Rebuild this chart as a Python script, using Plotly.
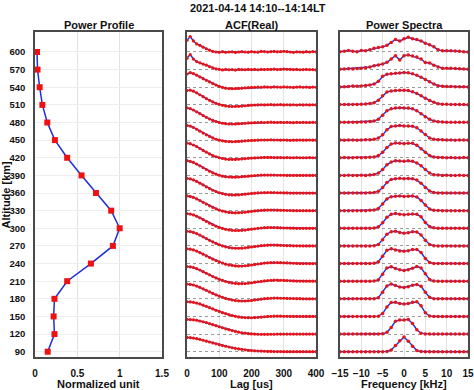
import plotly.graph_objects as go

# ---------------- data ----------------
altitudes = [90, 120, 150, 180, 210, 240, 270, 300, 330, 360, 390, 420, 450, 480, 510, 540, 570, 600]
power = [0.15, 0.23, 0.22, 0.23, 0.38, 0.66, 0.92, 1.00, 0.90, 0.72, 0.55, 0.38, 0.235, 0.145, 0.087, 0.055, 0.03, 0.024]

lag_step_us = 10
freq_start_khz = -15
freq_step_khz = 1

acf_090 = [0.97,0.96,0.93,0.89,0.84,0.78,0.72,0.66,0.60,0.54,0.48,0.42,0.37,0.32,0.27,0.23,0.19,0.16,0.13,0.10,0.08,0.06,0.05,0.04,0.03,0.02,0.02,0.01,0.01,0.01,0.00,0.00,0.00,0.00,0.00,0.00,0.00,0.00,0.00,0.00,0.00]
acf_120 = [1.00,0.99,0.97,0.94,0.89,0.84,0.78,0.71,0.64,0.57,0.50,0.43,0.36,0.30,0.24,0.18,0.13,0.09,0.06,0.03,0.01,0.00,-0.01,-0.02,-0.02,-0.02,-0.01,-0.01,0.00,0.00,0.00,0.00,0.00,0.00,0.00,0.00,0.00,0.00,0.00,0.00,0.00]
acf_150 = [1.00,0.99,0.96,0.91,0.85,0.77,0.69,0.60,0.51,0.42,0.34,0.26,0.19,0.12,0.06,0.01,-0.03,-0.06,-0.08,-0.09,-0.09,-0.08,-0.06,-0.04,-0.02,0.00,0.01,0.02,0.02,0.02,0.01,0.01,0.00,0.00,0.00,0.00,0.00,0.00,0.00,0.00,0.00]
acf_180 = [1.00,0.98,0.94,0.87,0.78,0.68,0.58,0.47,0.37,0.27,0.18,0.10,0.03,-0.03,-0.08,-0.12,-0.14,-0.15,-0.15,-0.13,-0.11,-0.08,-0.05,-0.02,0.01,0.03,0.04,0.05,0.05,0.04,0.04,0.03,0.02,0.02,0.01,0.01,0.00,0.00,0.00,0.00,0.00]
acf_210 = [1.00,0.98,0.93,0.85,0.76,0.65,0.54,0.43,0.32,0.22,0.13,0.05,-0.02,-0.08,-0.12,-0.15,-0.17,-0.17,-0.16,-0.14,-0.11,-0.07,-0.04,-0.01,0.02,0.04,0.06,0.07,0.07,0.06,0.05,0.04,0.03,0.02,0.01,0.01,0.00,0.00,0.00,0.00,0.00]
acf_240 = [1.00,0.98,0.93,0.85,0.75,0.64,0.52,0.41,0.30,0.20,0.11,0.03,-0.04,-0.09,-0.13,-0.16,-0.17,-0.17,-0.15,-0.13,-0.10,-0.06,-0.03,0.00,0.03,0.05,0.06,0.07,0.07,0.06,0.05,0.04,0.03,0.02,0.01,0.00,0.00,0.00,0.00,0.00,0.00]
acf_270 = [1.00,0.98,0.92,0.84,0.74,0.62,0.50,0.38,0.27,0.17,0.08,0.00,-0.06,-0.11,-0.14,-0.16,-0.16,-0.15,-0.13,-0.10,-0.07,-0.04,-0.01,0.02,0.04,0.05,0.06,0.06,0.05,0.04,0.03,0.02,0.02,0.01,0.01,0.00,0.00,0.00,0.00,0.00,0.00]
acf_300 = [1.00,0.97,0.91,0.82,0.71,0.59,0.47,0.35,0.24,0.14,0.06,-0.01,-0.07,-0.11,-0.14,-0.15,-0.15,-0.14,-0.12,-0.09,-0.06,-0.03,0.00,0.02,0.04,0.05,0.05,0.05,0.04,0.03,0.02,0.02,0.01,0.01,0.00,0.00,0.00,0.00,0.00,0.00,0.00]
acf_330 = [1.00,0.97,0.90,0.80,0.69,0.57,0.45,0.33,0.22,0.12,0.04,-0.03,-0.08,-0.12,-0.14,-0.15,-0.14,-0.13,-0.10,-0.08,-0.05,-0.02,0.00,0.02,0.03,0.04,0.04,0.04,0.03,0.02,0.02,0.01,0.01,0.00,0.00,0.00,0.00,0.00,0.00,0.00,0.00]
acf_360 = [1.00,0.97,0.89,0.79,0.67,0.55,0.42,0.30,0.19,0.10,0.02,-0.04,-0.09,-0.12,-0.13,-0.13,-0.12,-0.10,-0.08,-0.05,-0.03,-0.01,0.01,0.02,0.03,0.03,0.03,0.03,0.02,0.02,0.01,0.01,0.00,0.00,0.00,0.00,0.00,0.00,0.00,0.00,0.00]
acf_390 = [1.00,0.96,0.88,0.77,0.65,0.52,0.40,0.28,0.17,0.08,0.01,-0.05,-0.09,-0.11,-0.12,-0.12,-0.11,-0.09,-0.07,-0.05,-0.03,-0.01,0.01,0.02,0.02,0.02,0.02,0.02,0.01,0.01,0.01,0.00,0.00,0.00,0.00,0.00,0.00,0.00,0.00,0.00,0.00]
acf_420 = [1.00,0.96,0.87,0.76,0.63,0.50,0.38,0.26,0.15,0.07,0.00,-0.05,-0.09,-0.11,-0.11,-0.11,-0.10,-0.08,-0.06,-0.04,-0.02,-0.01,0.00,0.01,0.02,0.02,0.02,0.01,0.01,0.01,0.00,0.01,0.00,0.00,0.01,0.00,0.00,0.00,0.01,0.00,0.00]
acf_450 = [1.00,0.96,0.86,0.74,0.61,0.48,0.36,0.25,0.15,0.06,0.00,-0.05,-0.08,-0.10,-0.11,-0.10,-0.09,-0.07,-0.05,-0.03,-0.02,-0.01,0.00,0.01,0.01,0.01,0.02,0.01,0.01,0.00,0.01,0.00,-0.01,0.00,0.00,0.01,0.00,0.00,0.01,0.00,0.00]
acf_480 = [1.00,0.95,0.85,0.73,0.60,0.47,0.35,0.24,0.14,0.06,0.00,-0.05,-0.08,-0.10,-0.10,-0.10,-0.08,-0.07,-0.05,-0.03,-0.02,-0.01,0.00,0.01,0.00,0.01,0.02,0.01,0.00,0.01,0.00,0.01,0.00,-0.01,0.01,0.00,0.01,0.00,0.00,0.01,0.00]
acf_510 = [0.97,1.00,0.93,0.82,0.69,0.56,0.43,0.31,0.20,0.10,0.03,-0.03,-0.07,-0.10,-0.11,-0.11,-0.10,-0.08,-0.06,-0.04,-0.02,-0.01,0.00,0.01,0.00,0.01,0.02,0.00,0.01,0.02,0.00,0.01,0.00,0.01,-0.01,0.01,0.00,0.01,0.00,0.01,0.00]
acf_540 = [0.90,1.00,0.93,0.82,0.70,0.58,0.47,0.36,0.25,0.15,0.06,-0.01,-0.06,-0.09,-0.10,-0.09,-0.08,-0.06,-0.04,-0.03,-0.01,0.00,0.01,0.00,0.02,0.01,0.00,0.02,0.01,0.00,0.02,0.01,0.00,-0.01,0.01,0.02,0.00,0.01,-0.01,0.01,0.00]
acf_570 = [0.78,1.02,0.72,0.55,0.46,0.38,0.30,0.20,0.12,0.05,0.02,-0.02,0.01,-0.01,0.00,-0.03,0.01,0.00,-0.01,0.02,0.00,0.01,-0.01,0.01,0.00,0.02,0.01,0.03,0.00,0.01,0.04,0.02,0.01,0.00,0.01,-0.01,0.00,0.01,0.00,0.00,-0.02]
acf_600 = [0.80,1.05,0.75,0.55,0.45,0.33,0.22,0.12,0.04,0.00,-0.02,0.02,-0.02,0.00,0.01,-0.03,0.00,0.02,0.00,-0.01,0.03,0.00,-0.01,0.04,0.03,0.00,0.02,0.04,0.01,0.02,0.05,0.02,0.00,-0.02,0.01,0.00,-0.01,0.02,0.00,0.03,0.01]

spec_090 = [0.00,0.00,0.00,0.00,0.00,0.00,0.00,0.00,0.00,0.00,0.00,0.02,0.12,0.42,0.75,1.00,0.72,0.38,0.08,0.01,0.00,0.00,0.00,0.00,0.00,0.00,0.00,0.00,0.00,0.00,0.00]
spec_120 = [0.00,0.00,0.00,0.00,0.00,0.00,0.00,0.00,0.00,0.00,0.02,0.12,0.45,0.88,0.95,0.96,1.00,0.72,0.30,0.06,0.01,0.00,0.00,0.00,0.00,0.00,0.00,0.00,0.00,0.00,0.00]
spec_150 = [0.00,0.00,0.00,0.00,0.00,0.00,0.00,0.00,0.00,0.02,0.20,0.65,0.95,0.96,0.88,0.84,0.88,0.96,1.00,0.72,0.25,0.03,0.00,0.00,0.00,0.00,0.00,0.00,0.00,0.00,0.00]
spec_180 = [0.00,0.00,0.00,0.00,0.00,0.00,0.00,0.00,0.01,0.08,0.45,0.88,1.00,0.90,0.80,0.77,0.82,0.92,0.98,0.85,0.45,0.10,0.01,0.00,0.00,0.00,0.00,0.00,0.00,0.00,0.00]
spec_210 = [0.00,0.00,0.00,0.00,0.00,0.00,0.00,0.00,0.02,0.10,0.48,0.90,0.98,0.86,0.77,0.73,0.78,0.88,1.00,0.90,0.50,0.12,0.02,0.00,0.00,0.00,0.00,0.00,0.00,0.00,0.00]
spec_240 = [0.00,0.00,0.00,0.00,0.00,0.00,0.00,0.00,0.02,0.12,0.50,0.90,1.00,0.93,0.86,0.84,0.88,0.95,0.96,0.75,0.35,0.08,0.01,0.00,0.00,0.00,0.00,0.00,0.00,0.00,0.00]
spec_270 = [0.00,0.00,0.00,0.00,0.00,0.00,0.00,0.00,0.02,0.10,0.42,0.80,0.97,1.00,0.92,0.87,0.90,0.97,0.95,0.75,0.38,0.10,0.02,0.00,0.00,0.00,0.00,0.00,0.00,0.00,0.00]
spec_300 = [0.00,0.00,0.00,0.00,0.00,0.00,0.00,0.00,0.02,0.10,0.38,0.75,0.95,1.00,0.96,0.93,0.95,0.98,0.96,0.78,0.40,0.12,0.03,0.00,0.00,0.00,0.00,0.00,0.00,0.00,0.00]
spec_330 = [0.00,0.00,0.00,0.00,0.00,0.00,0.00,0.02,0.04,0.15,0.45,0.80,0.95,0.98,1.00,0.97,0.98,1.00,0.93,0.70,0.38,0.12,0.03,0.01,0.00,0.00,0.00,0.00,0.00,0.00,0.00]
spec_360 = [0.00,0.00,0.00,0.00,0.00,0.00,0.00,0.02,0.04,0.12,0.38,0.72,0.92,0.98,1.00,0.98,0.99,0.97,0.88,0.66,0.38,0.13,0.04,0.01,0.00,0.00,0.00,0.00,0.00,0.00,0.00]
spec_390 = [0.00,0.00,0.01,0.00,0.00,0.01,0.00,0.03,0.06,0.16,0.40,0.72,0.92,1.00,0.98,0.97,1.00,0.96,0.85,0.66,0.40,0.16,0.05,0.02,0.00,0.01,0.00,0.00,0.01,0.00,0.00]
spec_420 = [0.00,0.01,0.00,0.00,0.01,0.00,0.01,0.03,0.06,0.15,0.38,0.70,0.93,1.00,0.98,0.96,0.98,0.98,0.85,0.62,0.38,0.15,0.05,0.02,0.01,0.00,0.01,0.00,0.00,0.01,0.00]
spec_450 = [0.01,0.00,0.01,0.01,0.00,0.01,0.02,0.03,0.06,0.14,0.36,0.70,0.92,0.97,1.00,0.97,0.96,0.95,0.84,0.63,0.38,0.15,0.06,0.03,0.02,0.01,0.01,0.00,0.01,0.01,0.00]
spec_480 = [0.01,0.02,0.01,0.02,0.02,0.03,0.04,0.06,0.10,0.22,0.50,0.80,0.93,0.98,1.00,0.99,0.98,0.93,0.80,0.60,0.40,0.22,0.10,0.05,0.03,0.02,0.02,0.01,0.02,0.01,0.01]
spec_510 = [0.02,0.02,0.03,0.02,0.03,0.04,0.06,0.10,0.15,0.32,0.62,0.88,0.95,0.97,1.00,1.00,0.97,0.90,0.78,0.62,0.45,0.30,0.18,0.08,0.05,0.04,0.03,0.03,0.02,0.02,0.01]
spec_540 = [0.02,0.03,0.05,0.08,0.06,0.09,0.12,0.15,0.22,0.40,0.75,0.88,0.92,0.95,0.97,1.00,0.98,0.92,0.82,0.68,0.52,0.38,0.22,0.10,0.06,0.05,0.05,0.04,0.04,0.03,0.02]
spec_570 = [0.02,0.04,0.06,0.05,0.08,0.10,0.12,0.18,0.26,0.32,0.38,0.50,0.72,0.95,0.66,0.95,1.00,0.92,0.85,0.72,0.48,0.45,0.30,0.18,0.10,0.09,0.09,0.08,0.06,0.04,0.02]
spec_600 = [0.02,0.05,0.10,0.05,0.02,0.10,0.08,0.15,0.25,0.30,0.35,0.45,0.65,0.85,0.75,0.90,1.00,0.90,0.85,0.75,0.60,0.50,0.35,0.15,0.08,0.08,0.08,0.06,0.05,0.02,0.00]

acf_list = [acf_090, acf_120, acf_150, acf_180, acf_210, acf_240, acf_270, acf_300, acf_330,
            acf_360, acf_390, acf_420, acf_450, acf_480, acf_510, acf_540, acf_570, acf_600]
spec_list = [spec_090, spec_120, spec_150, spec_180, spec_210, spec_240, spec_270, spec_300, spec_330,
             spec_360, spec_390, spec_420, spec_450, spec_480, spec_510, spec_540, spec_570, spec_600]

title_text = "2021-04-14 14:10--14:14LT"
panel_titles = ["Power Profile", "ACF(Real)", "Power Spectra"]
axis_titles = ["Normalized unit", "Lag [us]", "Frequency [kHz]"]

# ---------------- style ----------------
SCALE = 25.0  # km of plot height per normalized unit
LINE_BLUE = "#1f2fd8"
MARK_RED = "#ee1111"
FRAME = "#4a4a4a"
FONT = "Liberation Sans, Arial, sans-serif"
YR = [81, 634]

W, H = 474, 390
L, T = 35, 32
R = W - 468
B = H - 357
pw = W - L - R
ph = H - T - B

def dom(a, b):
    return [(a - L) / pw, (b - L) / pw]

def px_x(px):
    return (px - L) / pw

def px_y(py):
    return (H - B - py) / ph

fig = go.Figure()

fig.add_trace(go.Scatter(
    x=power, y=altitudes, mode="lines+markers", xaxis="x", yaxis="y",
    line=dict(color=LINE_BLUE, width=1.5),
    marker=dict(symbol="square", size=6, color=MARK_RED),
    showlegend=False, hoverinfo="skip"))

for alt, vals in zip(altitudes, acf_list):
    lags = [lag_step_us * i for i in range(len(vals))]
    fig.add_trace(go.Scatter(
        x=lags, y=[alt + SCALE * v for v in vals], mode="lines+markers",
        xaxis="x2", yaxis="y2",
        line=dict(color=LINE_BLUE, width=1.4),
        marker=dict(size=3.2, color=MARK_RED),
        showlegend=False, hoverinfo="skip"))

for alt, vals in zip(altitudes, spec_list):
    freqs = [freq_start_khz + freq_step_khz * i for i in range(len(vals))]
    fig.add_trace(go.Scatter(
        x=freqs, y=[alt + SCALE * v for v in vals], mode="lines+markers",
        xaxis="x3", yaxis="y3",
        line=dict(color=LINE_BLUE, width=1.4),
        marker=dict(size=3.5, color=MARK_RED),
        showlegend=False, hoverinfo="skip"))

tickfont = dict(family=FONT, size=10, color="#111", weight="bold")
ytickfont = dict(family=FONT, size=9.5, color="#111", weight="bold")
common_x = dict(showline=True, mirror=True, linecolor=FRAME, linewidth=1.5,
                showgrid=True, gridcolor="#e3e3e3", gridwidth=1, zeroline=False,
                ticks="", tickfont=tickfont, ticklabelstandoff=6)

fig.update_layout(
    width=W, height=H,
    margin=dict(l=L, r=R, t=T, b=B, pad=0, autoexpand=False),
    paper_bgcolor="white", plot_bgcolor="white",
    font=dict(family=FONT, color="#111"),
    xaxis=dict(domain=dom(35, 162), range=[0, 1.5], tickvals=[0, 0.5, 1, 1.5],
               ticktext=["0", "0.5", "1", "1.5"], anchor="y", **common_x),
    yaxis=dict(domain=[0, 1], range=YR, tickvals=altitudes, anchor="x",
               showline=True, mirror=True, linecolor=FRAME, linewidth=1.5,
               showgrid=True, gridcolor="#eeeeee", zeroline=False,
               ticks="", tickfont=ytickfont, ticklabelstandoff=6),
    xaxis2=dict(domain=dom(187, 316), range=[0, 400], tickvals=[0, 100, 200, 300, 400],
                anchor="y2", **common_x),
    yaxis2=dict(domain=[0, 1], range=YR, tickvals=altitudes, anchor="x2",
                showline=True, mirror=True, linecolor=FRAME, linewidth=1.5,
                showgrid=True, gridcolor="#9a9a9a", griddash="dot", gridwidth=1,
                zeroline=False, showticklabels=False, ticks=""),
    xaxis3=dict(domain=dom(340, 468), range=[-15, 15], tickvals=[-15, -10, -5, 0, 5, 10, 15],
                anchor="y3", **common_x),
    yaxis3=dict(domain=[0, 1], range=YR, tickvals=altitudes, anchor="x3",
                showline=True, mirror=True, linecolor=FRAME, linewidth=1.5,
                showgrid=True, gridcolor="#9a9a9a", griddash="dot", gridwidth=1,
                zeroline=False, showticklabels=False, ticks=""),
)

ann = []
ann.append(dict(text=title_text, x=px_x(258), y=px_y(8),
                font=dict(family=FONT, size=11, weight="bold", color="#111")))
for name, cx in zip(panel_titles, [98.5, 251.5, 404]):
    ann.append(dict(text=name, x=px_x(cx), y=px_y(25),
                    font=dict(family=FONT, size=11, weight="bold", color="#111")))
for name, cx in zip(axis_titles, [98.5, 251.5, 404]):
    ann.append(dict(text=name, x=px_x(cx), y=px_y(384),
                    font=dict(family=FONT, size=11, weight="bold", color="#111")))
ann.append(dict(text="Altitude [km]", x=px_x(5.5), y=px_y(195), textangle=-90,
                font=dict(family=FONT, size=11, weight="bold", color="#111")))
for a in ann:
    a.update(xref="paper", yref="paper", showarrow=False, xanchor="center", yanchor="middle")
fig.update_layout(annotations=ann)

# remove the browser's default 8px body margin so the figure fills the window
fig.write_html("out.html", config={"displayModeBar": False},
               post_script="document.body.style.margin='0px';")
